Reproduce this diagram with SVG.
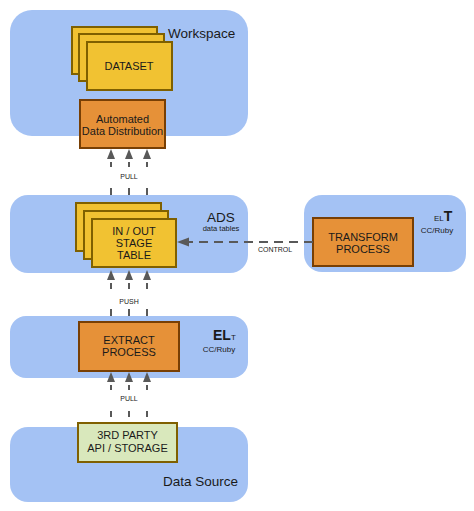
<svg xmlns="http://www.w3.org/2000/svg" width="474" height="511" viewBox="0 0 474 511">
<style>
.panel{fill:#A4C2F4;}
.yel{fill:#F1C232;stroke:#7F6000;stroke-width:2;}
.org{fill:#E69138;stroke:#783F04;stroke-width:2;}
.grn{fill:#D9E8BC;stroke:#7F6000;stroke-width:2;}
.t{font-family:"Liberation Sans",Arial,sans-serif;fill:#1a1a1a;}
.c{text-anchor:middle;}
.ln{stroke:#595959;stroke-width:2;fill:none;}
.ah{fill:#595959;}
</style>
<rect width="474" height="511" fill="#ffffff"/>
<g id="workspace">
<rect class="panel" x="10" y="10" width="238" height="126" rx="22"/>
<text class="t" x="168" y="38" font-size="13.5">Workspace</text>
</g>
<g id="ads">
<rect class="panel" x="10" y="195" width="238" height="78" rx="18"/>
<text class="t c" x="221" y="222" font-size="13.5">ADS</text>
<text class="t c" x="221" y="231" font-size="7.5">data tables</text>
</g>
<g id="elt-transform-panel">
<rect class="panel" x="304" y="195" width="162" height="77" rx="18"/>
<text class="t" x="434" y="221" font-size="8">EL<tspan font-size="14" font-weight="bold">T</tspan></text>
<text class="t c" x="437" y="233" font-size="8">CC/Ruby</text>
</g>
<g id="el-panel">
<rect class="panel" x="10" y="316" width="238" height="62" rx="16"/>
<text class="t" x="213" y="340" font-size="14" font-weight="bold">EL<tspan font-size="8" font-weight="normal">T</tspan></text>
<text class="t c" x="219" y="352" font-size="8">CC/Ruby</text>
</g>
<g id="datasource">
<rect class="panel" x="10" y="427" width="238" height="75" rx="18"/>
<text class="t" x="163" y="486" font-size="13.5">Data Source</text>
</g>
<g id="dataset">
<rect class="yel" x="72" y="27" width="85" height="47"/>
<rect class="yel" x="79" y="34" width="85" height="47"/>
<rect class="yel" x="87" y="42" width="85" height="48"/>
<text class="t c" x="129" y="70" font-size="11">DATASET</text>
</g>
<g id="add">
<rect class="org" x="80" y="100" width="85" height="48"/>
<text class="t c" x="122.5" y="123" font-size="11">Automated</text>
<text class="t c" x="122.5" y="135" font-size="11">Data Distribution</text>
</g>
<g id="stage">
<rect class="yel" x="76" y="203" width="85" height="48"/>
<rect class="yel" x="84" y="211" width="84" height="48"/>
<rect class="yel" x="92" y="219" width="84" height="48"/>
<text class="t c" x="134" y="235" font-size="11">IN / OUT</text>
<text class="t c" x="134" y="247" font-size="11">STAGE</text>
<text class="t c" x="134" y="259" font-size="11">TABLE</text>
</g>
<g id="transform">
<rect class="org" x="313" y="218" width="100" height="48"/>
<text class="t c" x="363" y="241" font-size="11">TRANSFORM</text>
<text class="t c" x="363" y="253" font-size="11">PROCESS</text>
</g>
<g id="extract">
<rect class="org" x="79" y="322" width="100" height="49"/>
<text class="t c" x="129" y="344" font-size="11">EXTRACT</text>
<text class="t c" x="129" y="356" font-size="11">PROCESS</text>
</g>
<g id="thirdparty">
<rect class="grn" x="78" y="423" width="99" height="39"/>
<text class="t c" x="127.5" y="439" font-size="11">3RD PARTY</text>
<text class="t c" x="127.5" y="452" font-size="11">API / STORAGE</text>
</g>
<g id="connectors">
<g id="pull-top">
<path class="ln" d="M111 162V167M129 162V167M147 162V167M111 188V195M129 188V195M147 188V195"/>
<path class="ah" d="M111 149L107 159H115ZM129 149L125 159H133ZM147 149L143 159H151Z"/>
<text class="t c" x="129" y="179" font-size="7">PULL</text>
</g>
<g id="push">
<path class="ln" d="M111 283V289M129 283V289M147 283V289M111 309V316M129 309V316M147 309V316"/>
<path class="ah" d="M111 270L107 280H115ZM129 270L125 280H133ZM147 270L143 280H151Z"/>
<text class="t c" x="129" y="304" font-size="7">PUSH</text>
</g>
<g id="pull-bottom">
<path class="ln" d="M111 385V390M129 385V390M147 385V390M111 411V417M129 411V417M147 411V417"/>
<path class="ah" d="M111 372L107 382H115ZM129 372L125 382H133ZM147 372L143 382H151Z"/>
<text class="t c" x="129" y="401" font-size="7">PULL</text>
</g>
<g id="control">
<path class="ln" d="M313 242H188" stroke-dasharray="9 6"/>
<path class="ah" d="M177 242L189 237.5V246.5Z"/>
<text class="t c" x="275" y="252" font-size="7">CONTROL</text>
</g>
</g>
</svg>
